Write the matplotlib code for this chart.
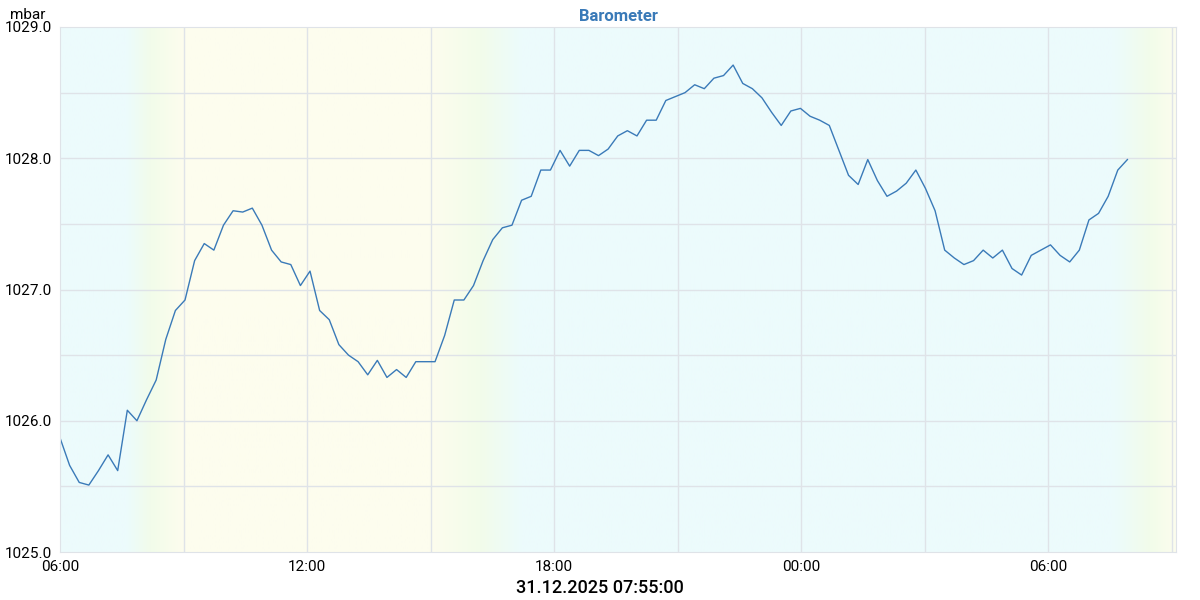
import numpy as np
import matplotlib
matplotlib.use("Agg")
import matplotlib.pyplot as plt
from matplotlib.colors import to_rgb

plt.rcParams["font.family"] = ["Roboto", "DejaVu Sans"]

# pressure in mbar, sampled ~15 min apart from 06:00 to 07:55 next day
pressure = [
    1025.87, 1025.66, 1025.53, 1025.51, 1025.62, 1025.74, 1025.62, 1026.08, 1026.00, 1026.16,
    1026.31, 1026.62, 1026.84, 1026.92, 1027.22, 1027.35, 1027.30, 1027.49, 1027.60, 1027.59,
    1027.62, 1027.49, 1027.30, 1027.21, 1027.19, 1027.03, 1027.14, 1026.84, 1026.77, 1026.58,
    1026.50, 1026.45, 1026.35, 1026.46, 1026.33, 1026.39, 1026.33, 1026.45, 1026.45, 1026.45,
    1026.65, 1026.92, 1026.92, 1027.03, 1027.22, 1027.38, 1027.47, 1027.49, 1027.68, 1027.71,
    1027.91, 1027.91, 1028.06, 1027.94, 1028.06, 1028.06, 1028.02, 1028.07, 1028.17, 1028.21,
    1028.17, 1028.29, 1028.29, 1028.44, 1028.47, 1028.50, 1028.56, 1028.53, 1028.61, 1028.63,
    1028.71, 1028.57, 1028.53, 1028.46, 1028.35, 1028.25, 1028.36, 1028.38, 1028.32, 1028.29,
    1028.25, 1028.06, 1027.87, 1027.80, 1027.99, 1027.83, 1027.71, 1027.75, 1027.81, 1027.91,
    1027.77, 1027.60, 1027.30, 1027.24, 1027.19, 1027.22, 1027.30, 1027.24, 1027.30, 1027.16,
    1027.11, 1027.26, 1027.30, 1027.34, 1027.26, 1027.21, 1027.30, 1027.53, 1027.58, 1027.71,
    1027.91, 1027.99,
]
span_hours = 25.92  # 06:00 -> 07:55
tick_labels = ["06:00", "12:00", "18:00", "00:00", "06:00"]
stamp = "31.12.2025 07:55:00"

# day/night shading stops (hours after 06:00, colour)
night = "#ecfbfc"
dawn = "#f2fcea"
day = "#fdfdee"
stops = [(0, night), (1.6, night), (2.2, dawn), (3.0, day), (9.0, day),
         (10.2, dawn), (11.2, night), (25.6, night), (26.5, dawn), (27.2, day)]

hours = np.linspace(0, span_hours, len(pressure))
xmax = 27.1

fig = plt.figure(figsize=(12, 6), dpi=100)
ax = fig.add_axes([0.05, 0.08, 0.93, 0.875])

xs = np.linspace(0, xmax, 600)
cols = np.array([to_rgb(c) for _, c in stops])
pos = np.array([p for p, _ in stops])
grad = np.stack([np.interp(xs, pos, cols[:, i]) for i in range(3)], axis=-1)
ax.imshow(grad[np.newaxis, :, :], extent=(0, xmax, 1025, 1029), aspect="auto", zorder=0)

for h in np.arange(3, xmax, 3):
    ax.axvline(h, color="#dfe3e8", lw=1, zorder=1)
for v in np.arange(1025.5, 1029, 0.5):
    ax.axhline(v, color="#dfe3e8", lw=1, zorder=1)

ax.plot(hours, pressure, color="#3a7ab8", lw=1, zorder=2)

ax.set_xlim(0, xmax)
ax.set_ylim(1025, 1029)
ax.set_xticks([0, 6, 12, 18, 24])
ax.set_xticklabels(tick_labels)
ax.set_yticks([1025, 1026, 1027, 1028, 1029])
ax.set_yticklabels([f"{v:.1f}" for v in [1025, 1026, 1027, 1028, 1029]])
ax.tick_params(length=0, labelsize=11, pad=6)
for s in ax.spines.values():
    s.set_color("#dfe3e8")

ax.set_title("Barometer", color="#3a7ab8", fontsize=12, fontweight="bold", pad=4)
fig.text(0.008, 0.975, "mbar", fontsize=11, va="center")
fig.text(0.5, 0.012, stamp, fontsize=13, ha="center", fontweight="medium")

fig.savefig("out.png", dpi=100)
